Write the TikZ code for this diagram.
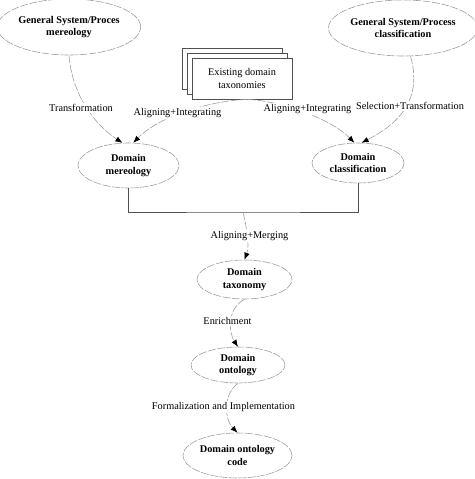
\documentclass[tikz,border=0pt]{standalone}
\usepackage{fontspec}
\setmainfont{Liberation Serif}
\usetikzlibrary{shapes.geometric,arrows.meta}
\definecolor{dgray}{HTML}{9E9E9E}
\definecolor{lgray}{HTML}{505050}
\tikzset{
  ell/.style={ellipse, draw=dgray, dash pattern=on 8pt off 1.5pt, line width=0.6pt, inner sep=0pt,
    align=center, font=\fontsize{10.3}{12.5}\selectfont\bfseries},
  stackbox/.style={rectangle, draw=lgray, line width=0.8pt, fill=white, minimum width=100pt, minimum height=41pt, inner sep=0pt},
  conn/.style={draw=dgray, dash pattern=on 8pt off 1.5pt, line width=0.6pt, -{Latex[black,length=7pt,width=5.5pt]}},
  lbl/.style={fill=white, inner sep=1pt, font=\fontsize{10.3}{12.5}\selectfont},
}
\begin{document}
\begin{tikzpicture}[x=1pt,y=-1pt]
\useasboundingbox (0,0) rectangle (474,479);
% ellipses
\node[ell, minimum width=140pt, minimum height=56pt] (gmer) at (69,27) {General System/Proces\\mereology};
\node[ell, minimum width=140pt, minimum height=56pt] (gcls) at (403,28) {General System/Process\\classification};
\node[ell, minimum width=101pt, minimum height=45pt] (dmer) at (128.5,165.5) {Domain\\mereology};
\node[ell, minimum width=92pt, minimum height=40pt] (dcls) at (358,163) {Domain\\classification};
\node[ell, minimum width=95pt, minimum height=39pt] (dtax) at (244.5,279.5) {Domain\\taxonomy};
\node[ell, minimum width=94pt, minimum height=36pt] (dont) at (238,365) {Domain\\ontology};
\node[ell, minimum width=109pt, minimum height=45pt] (dcode) at (237.5,455.5) {Domain ontology\\code};
% stacked boxes
\node[stackbox] (tax3) at (232,68.5) {};
\node[stackbox] (tax2) at (237,73.5) {};
\node[stackbox, align=center, font=\fontsize{10.3}{12.5}\selectfont] (tax) at (242,78.5) {Existing domain\\taxonomies};
% connectors
\draw[conn] (gmer.south) .. controls (72,95) and (95,125) .. (dmer.105);
\draw[conn] (tax.-74) .. controls (215,100) and (160,115) .. (dmer.78);
\draw[conn] (tax.-74) .. controls (280,101) and (330,118) .. (dcls.100);
\draw[conn] (gcls.-75) .. controls (420,90) and (410,118) .. (dcls.80);
\coordinate (j) at (243,212);
\draw[lgray, line width=0.8pt] (dmer.south) |- (j) -| (dcls.south);
\draw[conn] (j) .. controls (246,225) and (250,245) .. (dtax.north);
\draw[conn] (dtax.south) .. controls (225,310) and (230,335) .. (dont.north);
\draw[conn] (dont.south) .. controls (222,395) and (225,420) .. (dcode.north);
% labels
\node[lbl] (l1) at (81,108) {Transformation};
\node[lbl] (l2) at (177.5,113) {Aligning+Integrating};
\node[lbl] (l3) at (307.5,109) {Aligning+Integrating};
\node[lbl] (l4) at (410,106) {Selection+Transformation};
\node[lbl] (l5) at (249.5,236) {Aligning+Merging};
\node[lbl] (l6) at (227.5,321) {Enrichment};
\node[lbl] (l7) at (223.5,407) {Formalization and Implementation};
\end{tikzpicture}
\end{document}
